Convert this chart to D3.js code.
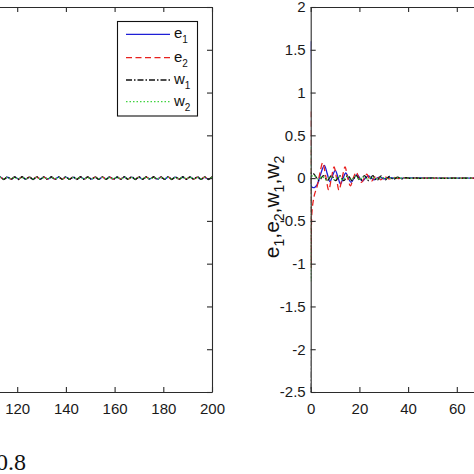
<!DOCTYPE html>
<html><head><meta charset="utf-8">
<script src="https://cdn.jsdelivr.net/npm/d3@7"></script>
<style>body{margin:0;background:#fff;} svg{display:block;font-family:"Liberation Sans",Arial,sans-serif;}</style>
</head><body>
<svg id="c" width="474" height="474"></svg>
<script>
// ---------- data ----------
const yTicks = [-2.5,-2,-1.5,-1,-0.5,0,0.5,1,1.5,2];
const xTicks = [0,20,40,60,80,100,120,140,160,180,200];
const seriesNames = ["e","e","w","w"];
const seriesSubs = ["1","2","1","2"];
const seriesColors = ["#1f1fd6","#e8201e","#111111","#3fd33f"];
const seriesDash = [null,"6,3.5","6,2,1.5,2","1.5,2"];

// right panel (transient)
const rT_e1 = [0,0.3,1.5,2.6,4.0,5.6,6.8,7.9,9.0,10.1,11.2,12.2,13.3,14.4,15.5,16.6,17.8,19.0,20.2,21.3,22.5,23.7,24.9,26.0,27.2,28.4,30,32,35,40,50,60,80];
const rV_e1 = [1.6,-0.1,-0.11,-0.08,0.04,0.15,0.05,-0.04,0.03,0.09,0.01,-0.07,0.0,0.06,0.0,-0.05,0.0,0.04,0.0,-0.035,0.0,0.025,0.0,-0.02,0.0,0.012,-0.008,0.005,-0.003,0.002,0,0,0];
const rT_e2 = [0,0.15,0.5,1.5,2.6,3.8,4.9,6.2,7.4,8.5,9.6,10.6,11.6,12.9,14.1,15.2,16.3,17.5,18.7,19.8,20.9,22.0,23.0,24.0,25.0,26.0,27.0,27.9,28.8,29.7,30.6,31.5,32.3,33.2,34.0,36,38,40,50,80];
const rV_e2 = [0.78,-1.05,-0.4,-0.2,-0.1,0.06,0.18,0.02,-0.14,0.0,0.13,0.0,-0.14,0.0,0.13,0.0,-0.09,0.0,0.07,0.0,-0.05,0.0,0.045,0.0,-0.035,0,0.028,0,-0.02,0,0.015,0,-0.01,0,0.008,-0.005,0.004,0,0,0];
const rT_w1 = [0,0.25,1.2,2.5,3.5,5.2,6.8,8.5,10.2,11.9,13.6,15.3,17.0,18.7,20.4,22.1,23.8,25.5,27.2,28.9,30.6,32.3,34.0,35.7,37.4,39.1,41,43,45,50,55,60,65,70,80];
const rV_w1 = [-2.6,0.06,0.05,0.0,-0.03,0.03,-0.03,0.03,-0.03,0.03,-0.03,0.03,-0.03,0.03,-0.03,0.03,-0.03,0.028,-0.028,0.025,-0.022,0.02,-0.016,0.012,-0.009,0.006,-0.004,0.003,-0.002,0.002,-0.002,0.001,-0.001,0.001,0];
const rT_w2 = [0,0.08,0.35,1.5,3,4.7,6.4,8.1,9.8,11.5,13.2,14.9,16.6,18.3,20,21.7,23.4,25.1,27,29,31,34,40,80];
const rV_w2 = [0.36,-1.2,0.02,0.03,-0.01,0.02,-0.02,0.02,-0.02,0.02,-0.02,0.02,-0.02,0.02,-0.015,0.015,-0.012,0.01,-0.008,0.006,-0.004,0.002,0,0];

// left panel (steady state, visible part)
const leftT = [110,111.5,113,114.5,116,117.5,119,120.5,122,123.5,125,126.5,128,129.5,131,132.5,134,135.5,137,138.5,140,141.5,143,144.5,146,147.5,149,150.5,152,153.5,155,156.5,158,159.5,161,162.5,164,165.5,167,168.5,170,171.5,173,174.5,176,177.5,179,180.5,182,183.5,185,186.5,188,189.5,191,192.5,194,195.5,197,198.5,200];
const leftW1 = [0.016,-0.015,0.015,-0.016,0.016,-0.015,0.014,-0.016,0.016,-0.015,0.015,-0.016,0.016,-0.015,0.015,-0.015,0.016,-0.016,0.015,-0.015,0.016,-0.015,0.015,-0.016,0.016,-0.015,0.015,-0.016,0.016,-0.015,0.015,-0.015,0.016,-0.016,0.015,-0.015,0.016,-0.015,0.015,-0.016,0.016,-0.015,0.015,-0.016,0.016,-0.015,0.015,-0.015,0.016,-0.016,0.015,-0.015,0.016,-0.015,0.015,-0.016,0.016,-0.015,0.015,-0.016,0.016];
const leftE1 = [0.011,-0.01,0.011,-0.011,0.01,-0.011,0.011,-0.01,0.011,-0.011,0.01,-0.011,0.011,-0.01,0.011,-0.011,0.01,-0.011,0.011,-0.01,0.011,-0.011,0.01,-0.011,0.011,-0.01,0.011,-0.011,0.01,-0.011,0.011,-0.01,0.011,-0.011,0.01,-0.011,0.011,-0.01,0.011,-0.011,0.01,-0.011,0.011,-0.01,0.011,-0.011,0.01,-0.011,0.011,-0.01,0.011,-0.011,0.01,-0.011,0.011,-0.01,0.011,-0.011,0.01,-0.011,0.011];
const leftE2 = [0.012,-0.012,0.011,-0.012,0.012,-0.011,0.012,-0.012,0.011,-0.012,0.012,-0.011,0.012,-0.012,0.011,-0.012,0.012,-0.011,0.012,-0.012,0.011,-0.012,0.012,-0.011,0.012,-0.012,0.011,-0.012,0.012,-0.011,0.012,-0.012,0.011,-0.012,0.012,-0.011,0.012,-0.012,0.011,-0.012,0.012,-0.011,0.012,-0.012,0.011,-0.012,0.012,-0.011,0.012,-0.012,0.011,-0.012,0.012,-0.011,0.012,-0.012,0.011,-0.012,0.012,-0.011,0.012];
const leftW2 = [0.008,-0.008,0.007,-0.008,0.008,-0.007,0.008,-0.008,0.007,-0.008,0.008,-0.007,0.008,-0.008,0.007,-0.008,0.008,-0.007,0.008,-0.008,0.007,-0.008,0.008,-0.007,0.008,-0.008,0.007,-0.008,0.008,-0.007,0.008,-0.008,0.007,-0.008,0.008,-0.007,0.008,-0.008,0.007,-0.008,0.008,-0.007,0.008,-0.008,0.007,-0.008,0.008,-0.007,0.008,-0.008,0.007,-0.008,0.008,-0.007,0.008,-0.008,0.007,-0.008,0.008,-0.007,0.008];

const bottomText = "0.8";

// ---------- drawing ----------
const W = 474;
const svg = d3.select("#c");
const axisColor = "#2b2b2b";
const yTop = 7, yBot = 392;
const y = d3.scaleLinear().domain([-2.5,2]).range([yBot, yTop]);
const xL = d3.scaleLinear().domain([0,200]).range([-275, 212]);
const xR = d3.scaleLinear().domain([0,200]).range([310.7, 797.7]);
const fmt = d => String(d);

function zipPts(t, v){ const n=Math.min(t.length,v.length); const a=[]; for(let i=0;i<n;i++) a.push([t[i],v[i]]); return a; }

function drawPanel(x, series, id){
  const g = svg.append("g");
  const r0 = x.range()[0], r1 = x.range()[1];
  svg.append("clipPath").attr("id", id).append("rect")
    .attr("x", r0).attr("y", yTop).attr("width", r1-r0).attr("height", yBot-yTop);
  const line = d3.line().x(d=>x(d[0])).y(d=>y(d[1])).curve(d3.curveCatmullRom.alpha(0.5));
  const lg = g.append("g").attr("clip-path", `url(#${id})`);
  series.forEach((pts,i)=>{
    lg.append("path").datum(pts).attr("d", line)
      .attr("fill","none").attr("stroke", seriesColors[i]).attr("stroke-width",1.3)
      .attr("stroke-dasharray", seriesDash[i]);
  });
  const visX = xTicks.filter(d => x(d) > -2 && x(d) < W + 2);
  const labX = xTicks.filter(d => x(d) - 12 >= 0 && x(d) + 12 <= W);
  const axB = d3.axisBottom(x).tickValues(visX).tickSizeInner(-5).tickSizeOuter(0).tickPadding(11)
     .tickFormat(d => labX.includes(d) ? fmt(d) : "");
  const axT = d3.axisTop(x).tickValues(visX).tickSizeInner(-5).tickSizeOuter(0).tickFormat("");
  const style = sel => { sel.attr("font-family",null).attr("font-size",null);
     sel.selectAll("path,line").attr("stroke", axisColor).attr("stroke-width",1.1);
     sel.selectAll("text").attr("fill","#1a1a1a").style("font-size","15px");
     sel.selectAll("text").filter(function(){ return this.textContent === ""; }).remove(); };
  g.append("g").attr("transform",`translate(0,${yBot})`).call(axB).call(style);
  g.append("g").attr("transform",`translate(0,${yTop})`).call(axT).call(style);
  if (r0 >= 0) {
    const axL = d3.axisLeft(y).tickValues(yTicks).tickSizeInner(-5).tickSizeOuter(0).tickPadding(5).tickFormat(fmt);
    g.append("g").attr("transform",`translate(${r0},0)`).call(axL).call(style);
  }
  if (r1 <= W) {
    const axR = d3.axisRight(y).tickValues(yTicks).tickSizeInner(-5).tickSizeOuter(0).tickFormat("");
    g.append("g").attr("transform",`translate(${r1},0)`).call(axR).call(style);
  }
  return g;
}

drawPanel(xL, [zipPts(leftT,leftE1), zipPts(leftT,leftE2), zipPts(leftT,leftW1), zipPts(leftT,leftW2)], "clipL");
drawPanel(xR, [zipPts(rT_e1,rV_e1), zipPts(rT_e2,rV_e2), zipPts(rT_w1,rV_w1), zipPts(rT_w2,rV_w2)], "clipR");

// legend
const leg = svg.append("g");
leg.append("rect").attr("x",117.5).attr("y",21.5).attr("width",80).attr("height",94.5)
  .attr("fill","#fff").attr("stroke","#111").attr("stroke-width",1.1);
const legY = [34.3, 57.7, 80, 101.7];
seriesNames.forEach((nm,i)=>{
  leg.append("line").attr("x1",126).attr("x2",170).attr("y1",legY[i]).attr("y2",legY[i])
    .attr("stroke", seriesColors[i]).attr("stroke-width",1.3).attr("stroke-dasharray", seriesDash[i]);
  const t = leg.append("text").attr("x",174).attr("y",legY[i]+4).attr("fill","#111")
    .style("font-size","15px");
  t.append("tspan").text(nm);
  t.append("tspan").attr("dy",5).style("font-size","10px").text(seriesSubs[i]);
});

// y label for right panel
const yl = svg.append("text").attr("transform","translate(279,207) rotate(-90)")
  .attr("text-anchor","middle").attr("fill","#111").style("font-size","21px");
seriesNames.forEach((nm,i)=>{
  yl.append("tspan").attr("dy", i===0?0:-5).text((i>0?",":"")+nm);
  yl.append("tspan").attr("dy",5).style("font-size","14px").text(seriesSubs[i]);
});

// bottom caption fragment
svg.append("text").attr("x",26).attr("y",470).attr("text-anchor","end")
  .style("font-family","'Liberation Serif','Times New Roman',serif").style("font-size","24px")
  .attr("fill","#111").text(bottomText);
</script>
</body></html>
